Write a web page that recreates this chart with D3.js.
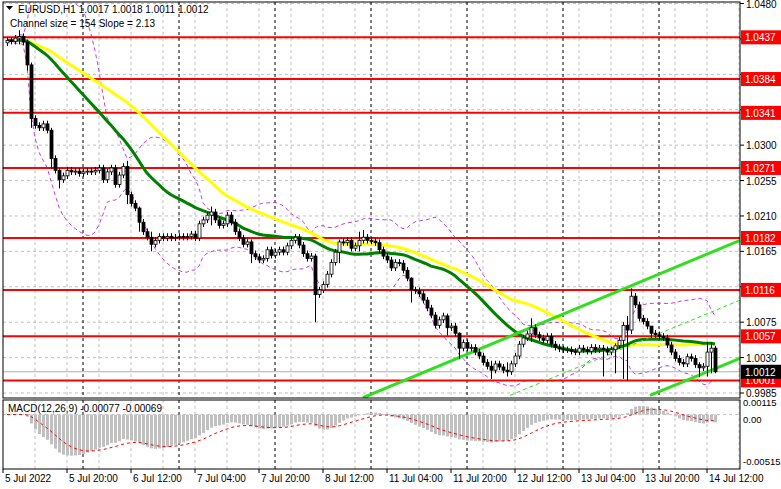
<!DOCTYPE html>
<html><head><meta charset="utf-8">
<script src="https://cdn.jsdelivr.net/npm/d3@7"></script>
<style>body{margin:0;background:#fff}text{font-family:"Liberation Sans",Arial,sans-serif}</style>
</head><body><div id="chart"></div>
<script>
// hourly closes, 5 Jul 05:00 .. 14 Jul 14:00
const closes = [
 1.0433,1.0432,1.0436,1.0438,1.0431,1.0402,1.0334,1.0325,1.0322,1.0327,1.0319,1.0283,1.0268,1.0256,1.0261,1.0268,
 1.0266,1.0267,1.0264,1.0266,1.0267,1.0266,1.0268,1.0271,1.0256,1.0266,1.0271,1.0250,1.0262,1.0273,1.0237,1.0226,
 1.0220,1.0202,1.0190,1.0183,1.0174,1.0179,1.0184,1.0182,1.0184,1.0182,1.0183,1.0184,1.0183,1.0184,1.0187,1.0182,
 1.0200,1.0205,1.0211,1.0215,1.0205,1.0198,1.0200,1.0211,1.0202,1.0190,1.0182,1.0174,1.0177,1.0162,1.0158,1.0154,
 1.0156,1.0167,1.0160,1.0164,1.0167,1.0164,1.0172,1.0179,1.0183,1.0173,1.0162,1.0156,1.0159,1.0110,1.0116,1.0123,
 1.0136,1.0151,1.0164,1.0177,1.0176,1.0179,1.0169,1.0172,1.0179,1.0183,1.0179,1.0178,1.0176,1.0167,1.0159,1.0154,
 1.0144,1.0151,1.0150,1.0141,1.0131,1.0116,1.0115,1.0111,1.0103,1.0093,1.0084,1.0071,1.0078,1.0083,1.0068,1.0070,
 1.0061,1.0042,1.0049,1.0042,1.0043,1.0037,1.0032,1.0024,1.0019,1.0014,1.0022,1.0018,1.0014,1.0012,1.0022,1.0032,
 1.0047,1.0055,1.0060,1.0068,1.0059,1.0055,1.0052,1.0057,1.0047,1.0043,1.0041,1.0040,1.0040,1.0038,1.0037,1.0042,
 1.0040,1.0038,1.0043,1.0040,1.0042,1.0040,1.0037,1.0040,1.0045,1.0052,1.0071,1.0065,1.0108,1.0097,1.0080,1.0076,
 1.0070,1.0061,1.0059,1.0057,1.0055,1.0046,1.0037,1.0029,1.0024,1.0022,1.0031,1.0029,1.0021,1.0017,1.0019,1.0037,
 1.0042,1.0012];
const firstOpen = 1.0430;
// notable wicks: [bar, high, low]
const wicks = [[3,1.0446,1.0428],[5,1.0434,1.0395],[6,1.0405,1.0322],[11,1.0322,1.0270],[13,1.0270,1.0245],
 [30,1.0280,1.0225],[33,1.0222,1.0190],[36,1.0190,1.0165],[48,1.0204,1.0178],[51,1.0222,1.0198],[61,1.0180,1.0150],
 [77,1.0162,1.0075],[83,1.0180,1.0150],[88,1.0190,1.0165],[89,1.0192,1.0175],[101,1.0132,1.0100],[110,1.0086,1.0058],
 [113,1.0062,1.0028],[121,1.0026,1.0003],[125,1.0024,1.0006],[131,1.0080,1.0050],[149,1.0046,1.0006],[152,1.0048,1.0010],
 [154,1.0075,1.0003],[155,1.0083,1.0000],[156,1.0118,1.0060],[161,1.0068,1.0055],[173,1.0024,1.0005],[175,1.0050,1.0006],
 [176,1.0049,1.0010],[177,1.0045,1.0010]];
const levels = [1.0437, 1.0384, 1.0341, 1.0271, 1.0182, 1.0116, 1.0057, 1.0001];
const priceTicks = [1.0480, 1.0435, 1.0390, 1.0345, 1.0300, 1.0255, 1.0210, 1.0165, 1.0120, 1.0075, 1.0030, 0.9985];
const timeLabels = [[-1,"5 Jul 2022"],[15,"5 Jul 20:00"],[31,"6 Jul 12:00"],[47,"7 Jul 04:00"],[63,"7 Jul 20:00"],
 [79,"8 Jul 12:00"],[95,"11 Jul 04:00"],[111,"11 Jul 20:00"],[127,"12 Jul 12:00"],[143,"13 Jul 04:00"],
 [159,"13 Jul 20:00"],[175,"14 Jul 12:00"]];
const dayStarts = [19, 43, 67, 91, 115, 139, 163];
// regression channel: [bar, price] at both ends
const chUpper = [[89, 0.9979], [183.25, 1.0179]];
const chMid = [[125.75, 0.9982], [183.25, 1.0103]];
const chLower = [[160.75, 0.9982], [183.25, 1.0029]];
const macdTicks = [0.00115, 0.00, -0.00515];
const lastPrice = 1.0012;

const W = 781, H = 489, L = 3, R = 740, T = 2, B = 398, mT = 400, mB = 469;
const svg = d3.select("#chart").append("svg").attr("width", W).attr("height", H);
const x = d3.scaleLinear().domain([0, 1]).range([7, 11]);
const y = d3.scaleLinear().domain([0.9985, 1.0480]).range([393, 3.5]);
const ym = d3.scaleLinear().domain([-0.00515, 0.00115]).range([462, 404]);

// ohlc
const bars = closes.map((c, i) => {
  const o = i ? closes[i - 1] : firstOpen;
  let h = Math.max(o, c) + 0.0004, l = Math.min(o, c) - 0.0004;
  const w = wicks.find(d => d[0] === i);
  if (w) { h = w[1]; l = w[2]; }
  return { i, o, c, h, l };
});

// indicators
function sma(n) {
  return closes.map((c, i) => { let s = 0; for (let k = i - n + 1; k <= i; k++) s += k < 0 ? closes[0] : closes[k]; return s / n; });
}
function ema(arr, n) { const a = 2 / (n + 1); let e = arr[0]; return arr.map(v => (e = e + a * (v - e))); }
const maFast = sma(30), maSlow = sma(50);
const bb = closes.map((c, i) => {
  const w = closes.slice(Math.max(0, i - 19), i + 1), m = d3.mean(w), sd = d3.deviation(w) || 0;
  return { i, up: m + 2 * sd, lo: m - 2 * sd };
});
const e12 = ema(closes, 12), e26 = ema(closes, 26);
const macd = closes.map((c, i) => e12[i] - e26[i]);
const signal = (() => { let s = macd[0]; return macd.map(v => (s = s + 0.2 * (v - s))); })();

svg.append("clipPath").attr("id", "pc").append("rect").attr("x", L).attr("y", T).attr("width", R - L).attr("height", B - T);

// grid
const grid = svg.append("g");
priceTicks.forEach(p => grid.append("line").attr("x1", L).attr("x2", R).attr("y1", y(p)).attr("y2", y(p))
  .attr("stroke", "#c0c0c0").attr("stroke-dasharray", "3,3"));
for (let i = 7; i < 185; i += 8) {
  [[T, B], [mT, mB]].forEach(([a, b]) => grid.append("line").attr("x1", x(i)).attr("x2", x(i)).attr("y1", a).attr("y2", b)
    .attr("stroke", "#c0c0c0").attr("stroke-dasharray", "3,3"));
}
grid.append("line").attr("x1", L).attr("x2", R).attr("y1", ym(0)).attr("y2", ym(0)).attr("stroke", "#c0c0c0").attr("stroke-dasharray", "3,3");
dayStarts.forEach(i => [[T, B], [mT, mB]].forEach(([a, b]) => grid.append("line").attr("x1", x(i)).attr("x2", x(i))
  .attr("y1", a).attr("y2", b).attr("stroke", "#000").attr("stroke-dasharray", "3,3")));

const g = svg.append("g").attr("clip-path", "url(#pc)");

// bollinger
["up", "lo"].forEach(k => g.append("path").datum(bb).attr("fill", "none").attr("stroke", "#c040e0").attr("stroke-dasharray", "4,3")
  .attr("d", d3.line().x(d => x(d.i)).y(d => y(d[k]))));

// level lines
levels.forEach(p => g.append("line").attr("x1", L).attr("x2", R).attr("y1", y(p)).attr("y2", y(p)).attr("stroke", "#ff0000").attr("stroke-width", 2));
g.append("line").attr("x1", L).attr("x2", R).attr("y1", y(lastPrice)).attr("y2", y(lastPrice)).attr("stroke", "#b0b0b0");

// MAs
g.append("path").datum(maSlow).attr("fill", "none").attr("stroke", "#ffff00").attr("stroke-width", 3)
  .attr("d", d3.line().x((d, i) => x(i)).y(d => y(d)));
g.append("path").datum(maFast).attr("fill", "none").attr("stroke", "#008000").attr("stroke-width", 3)
  .attr("d", d3.line().x((d, i) => x(i)).y(d => y(d)));

// channel
[[chUpper, null], [chMid, "4,3"], [chLower, null]].forEach(([c, dash]) => g.append("line")
  .attr("x1", x(c[0][0])).attr("y1", y(c[0][1])).attr("x2", x(c[1][0])).attr("y2", y(c[1][1]))
  .attr("stroke", "#33dd22").attr("stroke-width", dash ? 1 : 3).attr("stroke-dasharray", dash));

// candles
const cg = g.selectAll(".c").data(bars).enter().append("g");
cg.append("line").attr("x1", d => x(d.i) + 0.5).attr("x2", d => x(d.i) + 0.5).attr("y1", d => y(d.h)).attr("y2", d => y(d.l)).attr("stroke", "#000");
cg.append("rect").attr("x", d => x(d.i) - 1).attr("width", 3)
  .attr("y", d => y(Math.max(d.o, d.c))).attr("height", d => Math.max(1, Math.abs(y(d.o) - y(d.c))))
  .attr("fill", d => d.c >= d.o ? "#fff" : "#000").attr("stroke", "#000").attr("stroke-width", 0.8);

// MACD
svg.append("g").selectAll("rect").data(macd).enter().append("rect")
  .attr("x", (d, i) => x(i) - 1).attr("width", 3)
  .attr("y", d => Math.min(ym(d), ym(0))).attr("height", d => Math.abs(ym(d) - ym(0))).attr("fill", "#c0c0c0");
svg.append("path").datum(signal).attr("fill", "none").attr("stroke", "#ff0000").attr("stroke-dasharray", "3,3")
  .attr("d", d3.line().x((d, i) => x(i)).y(d => ym(d)));

// frames
svg.append("rect").attr("x", L).attr("y", T).attr("width", R - L).attr("height", B - T).attr("fill", "none").attr("stroke", "#000");
svg.append("rect").attr("x", L).attr("y", mT).attr("width", R - L).attr("height", mB - mT).attr("fill", "none").attr("stroke", "#000");

// price axis (tick labels hidden under level tags)
const tagged = levels.concat([lastPrice]);
priceTicks.forEach(p => {
  svg.append("line").attr("x1", R).attr("x2", R + 4).attr("y1", y(p)).attr("y2", y(p)).attr("stroke", "#000");
  if (tagged.some(q => Math.abs(y(q) - y(p)) < 12)) return;
  svg.append("text").attr("x", 746).attr("y", y(p) + 4).attr("font-size", 10).text(p.toFixed(4));
});
levels.forEach(p => {
  svg.append("rect").attr("x", 741).attr("y", y(p) - 7).attr("width", 40).attr("height", 14).attr("fill", "#ff0000");
  svg.append("text").attr("x", 745).attr("y", y(p) + 4).attr("font-size", 10).attr("fill", "#fff").text(p.toFixed(4));
});
svg.append("rect").attr("x", 741).attr("y", y(lastPrice) - 7).attr("width", 40).attr("height", 14).attr("fill", "#000");
svg.append("text").attr("x", 745).attr("y", y(lastPrice) + 4).attr("font-size", 10).attr("fill", "#fff").text(lastPrice.toFixed(4));
macdTicks.forEach((v, k) => svg.append("text").attr("x", 743).attr("y", ym(v) + (k === 1 ? 8 : k === 2 ? 3 : 2)).attr("font-size", 9.5)
  .text(v === 0 ? "0.00" : v.toFixed(5)));

// time axis
timeLabels.forEach(([i, t]) => {
  svg.append("line").attr("x1", x(i)).attr("x2", x(i)).attr("y1", mB).attr("y2", mB + 4).attr("stroke", "#000");
  svg.append("text").attr("x", x(i) + 2).attr("y", 482).attr("font-size", 10).text(t);
});

// titles
svg.append("path").attr("d", "M6,6 L13,6 L9.5,10 Z").attr("fill", "#000");
svg.append("text").attr("x", 18).attr("y", 13).attr("font-size", 10).text("EURUSD,H1  1.0017 1.0018 1.0011 1.0012");
svg.append("text").attr("x", 10).attr("y", 27).attr("font-size", 10).text("Channel size = 154 Slope = 2.13");
svg.append("text").attr("x", 8).attr("y", 412).attr("font-size", 10).text("MACD(12,26,9) -0.00077 -0.00069");
</script></body></html>
